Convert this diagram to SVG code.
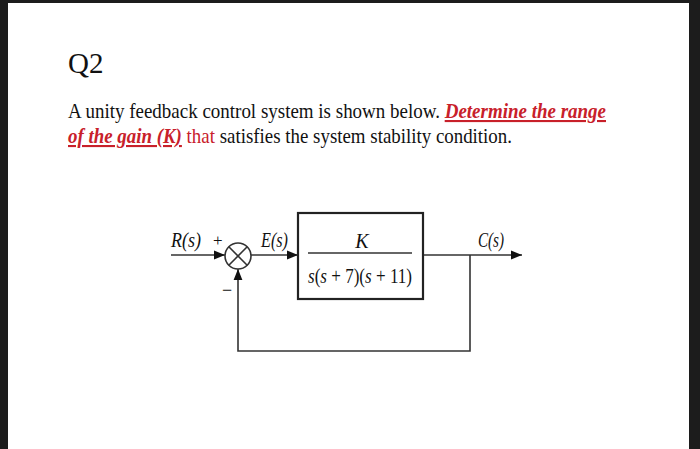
<svg xmlns="http://www.w3.org/2000/svg" width="700" height="449" viewBox="0 0 700 449">
<defs>
<style>
.t{font-family:"Liberation Serif",serif;fill:#111}
.r{fill:#c8202a;font-style:italic;font-weight:bold;text-decoration:underline}
.ln{stroke:#333;stroke-width:1.6;fill:none}
</style>
<marker id="a" viewBox="0 0 10 10" refX="10" refY="5" markerWidth="11" markerHeight="11" markerUnits="userSpaceOnUse" orient="auto"><path d="M0,1 L10,5 L0,9 Z" fill="#111"/></marker>
</defs>
<rect width="700" height="449" fill="#fff"/>
<rect x="0" y="0" width="700" height="3" fill="#1c1c1c"/>
<rect x="0" y="0" width="8" height="449" fill="#1c1c1c"/>
<rect x="689" y="0" width="11" height="449" fill="#1c1c1c"/>
<text class="t" x="68" y="73" font-size="29">Q2</text>
<text class="t" x="68" y="118" font-size="21" textLength="538" lengthAdjust="spacingAndGlyphs">A unity feedback control system is shown below. <tspan class="r">Determine the range</tspan></text>
<text class="t" x="68" y="143" font-size="21" textLength="444" lengthAdjust="spacingAndGlyphs"><tspan class="r">of the gain (K)</tspan> <tspan fill="#c8202a">that</tspan> satisfies the system stability condition.</text>
<g id="connectors">
<line class="ln" x1="171" y1="255" x2="225" y2="255" marker-end="url(#a)"/>
<line class="ln" x1="251" y1="255" x2="298" y2="255" marker-end="url(#a)"/>
<line class="ln" x1="423" y1="255" x2="522" y2="255" marker-end="url(#a)"/>
<polyline class="ln" points="470,255 470,351 238,351 238,269" marker-end="url(#a)"/>
</g>
<g id="sum">
<circle cx="238" cy="256" r="13" fill="#fff" stroke="#333" stroke-width="1.6"/>
<line class="ln" x1="228.8" y1="246.8" x2="247.2" y2="265.2"/>
<line class="ln" x1="247.2" y1="246.8" x2="228.8" y2="265.2"/>
<text class="t" x="213" y="246" font-size="17">+</text>
<text class="t" x="222" y="296" font-size="18">−</text>
</g>
<g id="block">
<rect x="298" y="213" width="125" height="86" fill="#fff" stroke="#222" stroke-width="2.2"/>
<text class="t" x="362" y="248" font-size="20" font-style="italic" text-anchor="middle">K</text>
<line x1="308" y1="253" x2="412" y2="253" stroke="#333" stroke-width="1.4"/>
<text class="t" x="360" y="283" font-size="21" text-anchor="middle" textLength="104" lengthAdjust="spacingAndGlyphs"><tspan font-style="italic">s</tspan>(<tspan font-style="italic">s</tspan> + 7)(<tspan font-style="italic">s</tspan> + 11)</text>
</g>
<g id="labels">
<text class="t" x="171" y="247" font-size="21" font-style="italic" textLength="30" lengthAdjust="spacingAndGlyphs">R(s)</text>
<text class="t" x="261" y="247" font-size="21" font-style="italic" textLength="27" lengthAdjust="spacingAndGlyphs">E(s)</text>
<text class="t" x="478" y="247" font-size="21" font-style="italic" textLength="26" lengthAdjust="spacingAndGlyphs">C(s)</text>
</g>
</svg>
